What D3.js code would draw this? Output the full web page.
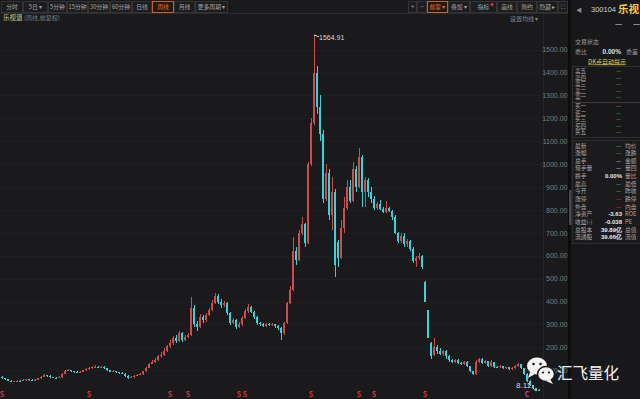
<!DOCTYPE html>
<html>
<head>
<meta charset="utf-8">
<script src="https://cdn.jsdelivr.net/npm/d3@7"></script>
<style>
html,body{margin:0;padding:0;background:#1a1a1c;overflow:hidden}
svg{display:block;font-family:"Noto Sans CJK SC","Liberation Sans",sans-serif}
</style>
</head>
<body>
<div id="chart"></div>
<script>
// 周线数据 (前复权), 读自图片
const opens = [70,66,60,55,50,52,55,53,57,60,58,55,58,65,72,79,75,70,68,66,70,85,98,100,95,93,90,92,100,105,110,113,116,112,115,108,100,93,95,90,88,85,75,66,70,76,80,83,95,110,128,138,145,160,
  168,185,205,219,240,228,262,232,245,254,370,300,290,334,319,340,365,394,425,400,385,394,350,306,319,290,300,330,360,377,356,334,306,300,295,303,298,300,292,285,262,306,394,450,620,580,700,740,656,1000,
  1180,1400,1250,1130,850,960,780,880,660,590,720,810,900,840,980,900,1030,880,930,880,850,810,825,805,790,810,795,770,700,665,685,650,665,630,575,590,600,
  487,363,219,165,200,185,170,185,160,145,138,145,133,128,137,118,95,82,135,150,130,140,118,135,115,112,118,108,112,106,110,118,125,108,85,55,35,22,15];
const highs = [74,68,62,57,55,58,57,60,63,62,60,61,68,75,84,81,77,72,70,73,88,103,106,102,97,95,96,103,109,114,118,121,118,119,117,110,102,99,97,92,90,87,77,73,79,84,87,98,114,132,145,152,166,178,
  195,212,230,248,252,270,268,255,262,421,385,315,345,340,348,372,405,437,432,410,402,398,355,326,322,310,336,368,390,382,360,338,312,305,308,306,305,303,296,288,310,400,470,683,640,712,771,745,1010,1200,
  1564.91,1430,1300,1150,1000,980,945,890,669,757,858,931,931,1010,990,1070,1040,945,940,902,860,835,843,814,840,815,800,778,705,700,699,672,670,640,600,610,605,
  490,363,225,241,210,195,190,188,165,150,150,148,137,140,140,120,98,145,155,152,145,142,145,137,118,122,120,115,114,113,121,130,127,110,88,58,37,24,17];
const lows = [62,57,52,47,48,50,50,51,55,55,52,53,57,63,70,72,67,65,62,64,68,83,95,92,89,86,88,90,98,103,107,110,108,109,105,97,90,91,87,85,82,72,63,64,68,74,78,81,93,108,125,133,142,155,
  160,178,195,212,220,222,225,228,240,250,290,270,285,305,312,335,360,388,390,372,375,340,298,300,282,285,295,325,352,348,325,298,292,288,290,292,292,286,276,232,255,302,390,445,560,575,690,640,650,990,
  1170,1220,1100,830,840,757,712,509,552,585,700,800,830,835,880,895,814,814,858,830,800,800,798,786,786,790,757,695,655,655,640,640,620,568,552,580,540,
  400,241,150,160,172,165,160,150,138,130,133,126,122,124,114,90,79,80,130,125,127,112,115,110,108,110,104,104,102,103,107,115,104,80,50,30,18,8.11,11];
const closes = [66,60,55,50,52,55,53,57,60,58,55,58,65,72,79,75,70,68,66,70,85,98,100,95,93,90,92,100,105,110,113,116,112,115,108,100,93,95,90,88,85,75,66,70,76,80,83,95,110,128,138,145,160,168,
  185,205,219,240,228,262,232,245,254,370,300,290,334,319,340,365,394,425,400,385,394,350,306,319,290,300,330,360,377,356,334,306,300,295,303,298,300,292,285,262,306,394,450,620,580,700,740,656,1000,1180,
  1400,1250,1130,850,960,780,880,560,590,720,810,900,840,980,900,1030,880,930,880,850,810,825,805,790,810,795,770,700,665,685,650,665,630,575,590,600,550,
  400,241,160,200,185,170,185,160,145,138,145,133,128,137,118,95,82,135,150,130,140,118,135,115,112,118,108,112,106,110,118,125,108,85,55,35,22,14,13];

// 纵轴刻度
const yTicks = [100,200,300,400,500,600,700,800,900,1000,1100,1200,1300,1400,1500];

// 底部事件标记 (周序号)
const markS = [0,29,56,62,79,81,103,119,124,141];
const markC = [175];

// 工具栏与盘口文字
const tabs = ["分时","5日 ▾","5分钟","15分钟","30分钟","60分钟","日线","周线","月线","更多周期 ▾"];
const tools = ["+","−","前复 ▾","叠加 ▾","指标","画线","简约","隐藏 ▸","⛶"];
const askRows = ["卖五","卖四","卖三","卖二","卖一"];
const bidRows = ["买一","买二","买三","买四","买五"];
const quoteRows = [
  ["最新","—","均价"],["涨幅","—","涨跌"],["总手","—","金额"],["现手量","—","量回"],
  ["换手","0.00%","量比"],["最高","—","最低"],["今开","—","昨收"],["涨停","—","跌停"],
  ["外盘","—","内盘"],["净资产","-3.63","ROE"],["收益(-)","-0.038","PE"],
  ["总股本","39.89亿","总值"],["流通股","39.66亿","流值"]
];
const quoteColors = ["#3fc86a","#3f9a5a","#cfcfcf","#cfcfcf","#e8e8e8","#3fc86a","#3fc86a","#c84a4a","#c84a4a","#e8e8e8","#e8e8e8","#e8e8e8","#e8e8e8"];

const W = 640, H = 399;
const svg = d3.select("#chart").append("svg").attr("width", W).attr("height", H);
svg.append("rect").attr("width", W).attr("height", H).attr("fill", "#1a1a1c");

// 比例尺
const n = closes.length;
const x = d3.scaleBand().domain(d3.range(n)).range([1, 1 + 3 * n]);
const y = d3.scaleLinear().domain([0, 1500]).range([393.1, 49.7]);

// 网格
svg.append("g").selectAll("line").data(yTicks).enter().append("line")
  .attr("x1", 0).attr("x2", 543).attr("y1", d => Math.round(y(d)) + 0.5).attr("y2", d => Math.round(y(d)) + 0.5)
  .attr("stroke", "#1f1f21");

// 纵轴
const axis = svg.append("g").attr("transform", "translate(543.5,0)")
  .call(d3.axisRight(y).tickValues(yTicks).tickFormat(d3.format(".2f")).tickSize(0));
axis.select(".domain").attr("stroke", "#262628").attr("d", "M0,13V399");
axis.selectAll("text").attr("x", 24).attr("text-anchor", "end")
  .attr("fill", "#7c7c7c").attr("font-size", 7).attr("font-family", "Liberation Sans, sans-serif");

// K线
const up = "#cc4e4c", down = "#36d4d8";
const candles = svg.append("g").attr("shape-rendering", "crispEdges");
const idx = d3.range(n);
candles.selectAll("line").data(idx).enter().append("line")
  .attr("x1", i => x(i) + 1).attr("x2", i => x(i) + 1)
  .attr("y1", i => y(highs[i])).attr("y2", i => y(lows[i]))
  .attr("stroke", i => closes[i] >= opens[i] ? up : down).attr("stroke-width", 1);
candles.selectAll("rect").data(idx).enter().append("rect")
  .attr("x", i => x(i)).attr("width", 2)
  .attr("y", i => y(Math.max(opens[i], closes[i])))
  .attr("height", i => Math.max(1, Math.abs(y(opens[i]) - y(closes[i]))))
  .attr("fill", i => closes[i] >= opens[i] ? up : down);

// 最高、最低标注
const hi = d3.maxIndex(highs), lo = d3.minIndex(lows);
const hx = x(hi) + 1, hy = y(highs[hi]);
svg.append("path").attr("d", `M${hx},${hy}L${hx + 5},${hy + 2}`).attr("stroke", "#d8d8d8").attr("fill", "none");
svg.append("text").attr("x", hx + 5).attr("y", hy + 5).attr("font-size", 7).attr("fill", "#d8d8d8")
  .attr("font-family", "Liberation Sans, sans-serif").text(d3.format(".2f")(highs[hi]));
const lx = x(lo) + 1, ly = y(lows[lo]);
svg.append("path").attr("d", `M${lx},${ly}L${lx - 4},${ly - 4}`).attr("stroke", "#d8d8d8").attr("fill", "none");
svg.append("text").attr("x", lx - 5).attr("y", ly - 3).attr("text-anchor", "end").attr("font-size", 8)
  .attr("fill", "#d8d8d8").attr("font-family", "Liberation Sans, sans-serif").text(d3.format(".2f")(lows[lo]));

// 事件标记
svg.append("g").selectAll("text").data(markS).enter().append("text")
  .attr("x", i => x(i) + 1).attr("y", 397).attr("text-anchor", "middle")
  .attr("font-size", 7).attr("font-weight", "bold").attr("fill", "#d23a3a").text("S");
svg.append("g").selectAll("text").data(markC).enter().append("text")
  .attr("x", i => x(i) + 1).attr("y", 397).attr("text-anchor", "middle")
  .attr("font-size", 7).attr("font-weight", "bold").attr("fill", "#c83cc8").text("C");

// 顶部工具栏
function button(x0, x1, t, on) {
  svg.append("rect").attr("x", x0 + 0.5).attr("y", 1.5).attr("width", x1 - x0 - 1).attr("height", 11)
    .attr("fill", on ? "#24190f" : "#1d1d1f").attr("stroke", on ? "#c8602a" : "#333335");
  svg.append("text").attr("x", (x0 + x1) / 2).attr("y", 9.3).attr("text-anchor", "middle")
    .attr("font-size", 5.8).attr("fill", on ? "#e0702e" : "#a6a6a6").text(t);
}
const tabEdges = [1, 23, 48, 67, 88, 110, 132, 152, 174, 195, 228];
tabs.forEach((t, i) => button(tabEdges[i], tabEdges[i + 1], t, t === "周线"));
const toolEdges = [408, 417, 427, 448, 470, 497, 517, 537, 558, 568];
tools.forEach((t, i) => button(toolEdges[i], toolEdges[i + 1], t, i === 2));
svg.append("circle").attr("cx", 492).attr("cy", 4.5).attr("r", 1.5).attr("fill", "#e03030");
svg.append("line").attr("x1", 0).attr("x2", 569).attr("y1", 13.5).attr("y2", 13.5).attr("stroke", "#2c2c2e");

svg.append("text").attr("x", 3).attr("y", 20).attr("font-size", 6.5).attr("fill", "#cfd08a").text("乐视退");
svg.append("text").attr("x", 24).attr("y", 20).attr("font-size", 6).attr("fill", "#7e7e7e").text("(周线,前复权)");
svg.append("text").attr("x", 510).attr("y", 20.5).attr("font-size", 6).attr("fill", "#8a8a8a").text("设置均线 ▾");

// 右侧盘口
const px = 570;
svg.append("rect").attr("x", px).attr("y", 0).attr("width", W - px).attr("height", H).attr("fill", "#18181a");
svg.append("rect").attr("x", 568).attr("y", 0).attr("width", 2.5).attr("height", H).attr("fill", "#0c0c0d");
svg.append("rect").attr("x", 569).attr("y", 190).attr("width", 2.5).attr("height", 35).attr("fill", "#4a4a4c");
svg.append("text").attr("x", 576).attr("y", 12).attr("font-size", 6).attr("fill", "#8a8a8a").text("◀");
svg.append("text").attr("x", 591).attr("y", 12).attr("font-size", 7.5).attr("fill", "#cfcfcf")
  .attr("font-family", "Liberation Sans, sans-serif").text("300104");
svg.append("text").attr("x", 618).attr("y", 13).attr("font-size", 10.5).attr("font-weight", "bold").attr("fill", "#f0d050").text("乐视");
svg.append("text").attr("x", 615).attr("y", 27).attr("font-size", 8).attr("fill", "#e0e0e0").text("—");
svg.append("text").attr("x", 633).attr("y", 27).attr("font-size", 8).attr("fill", "#e0e0e0").text("—");
svg.append("text").attr("x", 575).attr("y", 43.5).attr("font-size", 6).attr("fill", "#9a9a9a").text("交易状态");
svg.append("text").attr("x", 575).attr("y", 53.5).attr("font-size", 6).attr("fill", "#9a9a9a").text("委比");
svg.append("text").attr("x", 621).attr("y", 53.5).attr("text-anchor", "end").attr("font-size", 6.5).attr("font-weight", "bold")
  .attr("fill", "#e0e0e0").attr("font-family", "Liberation Sans, sans-serif").text("0.00%");
svg.append("text").attr("x", 626).attr("y", 53.5).attr("font-size", 6).attr("fill", "#9a9a9a").text("委差");
svg.append("text").attr("x", 588).attr("y", 63.5).attr("font-size", 6).attr("fill", "#e6c84a")
  .attr("text-decoration", "underline").text("DK点自动提示");

const book = svg.append("g");
book.append("rect").attr("x", 572.5).attr("y", 66.5).attr("width", 70).attr("height", 71).attr("fill", "none").attr("stroke", "#2e2e30");
book.append("line").attr("x1", 572).attr("x2", 640).attr("y1", 102.5).attr("y2", 102.5).attr("stroke", "#3a3a3c");
askRows.forEach((t, i) => {
  book.append("text").attr("x", 575).attr("y", 73 + i * 6.6).attr("font-size", 5.6).attr("fill", "#a8a8a8").text(t);
  book.append("text").attr("x", 616).attr("y", 73 + i * 6.6).attr("font-size", 5.6).attr("fill", "#3fb868").text("—");
});
bidRows.forEach((t, i) => {
  book.append("text").attr("x", 575).attr("y", 108 + i * 6.6).attr("font-size", 5.6).attr("fill", "#a8a8a8").text(t);
  book.append("text").attr("x", 616).attr("y", 108 + i * 6.6).attr("font-size", 5.6).attr("fill", "#3fb868").text("—");
});

const quote = svg.append("g");
quote.append("rect").attr("x", 572.5).attr("y", 140.5).attr("width", 70).attr("height", 103).attr("fill", "#1b1b1d").attr("stroke", "#2e2e30");
quoteRows.forEach((r, i) => {
  const yy = 147.5 + i * 7.65;
  const isDash = r[1] === "—";
  quote.append("text").attr("x", 575).attr("y", yy).attr("font-size", 5.8).attr("fill", "#a8a8a8").text(r[0]);
  quote.append("text").attr("x", isDash ? 616 : 622).attr("y", yy).attr("text-anchor", isDash ? "start" : "end")
    .attr("font-size", isDash ? 5.8 : 6).attr("font-weight", isDash ? "normal" : "bold").attr("fill", quoteColors[i])
    .attr("font-family", isDash ? null : "Liberation Sans, sans-serif").text(r[1]);
  quote.append("text").attr("x", 625).attr("y", yy).attr("font-size", 5.8).attr("fill", "#a8a8a8").text(r[2]);
});

// 水印
const wm = svg.append("g");
wm.append("ellipse").attr("cx", 537).attr("cy", 366).attr("rx", 10).attr("ry", 8.5).attr("fill", "#f2f2f2");
wm.append("path").attr("d", "M530,372L528,378L535,374Z").attr("fill", "#f2f2f2");
wm.append("circle").attr("cx", 533.5).attr("cy", 364).attr("r", 1.3).attr("fill", "#1a1a1c");
wm.append("circle").attr("cx", 540.5).attr("cy", 364).attr("r", 1.3).attr("fill", "#1a1a1c");
wm.append("ellipse").attr("cx", 546).attr("cy", 374).attr("rx", 8.5).attr("ry", 7.5).attr("fill", "#f2f2f2").attr("stroke", "#1a1a1c").attr("stroke-width", 1.5);
wm.append("path").attr("d", "M550,379L553,384L546,381Z").attr("fill", "#f2f2f2");
wm.append("circle").attr("cx", 543).attr("cy", 372.5).attr("r", 1.1).attr("fill", "#1a1a1c");
wm.append("circle").attr("cx", 549).attr("cy", 372.5).attr("r", 1.1).attr("fill", "#1a1a1c");
wm.append("text").attr("x", 557).attr("y", 379).attr("font-size", 15.5).attr("fill", "#f4f4f4").text("汇飞量化");
</script>
</body>
</html>
